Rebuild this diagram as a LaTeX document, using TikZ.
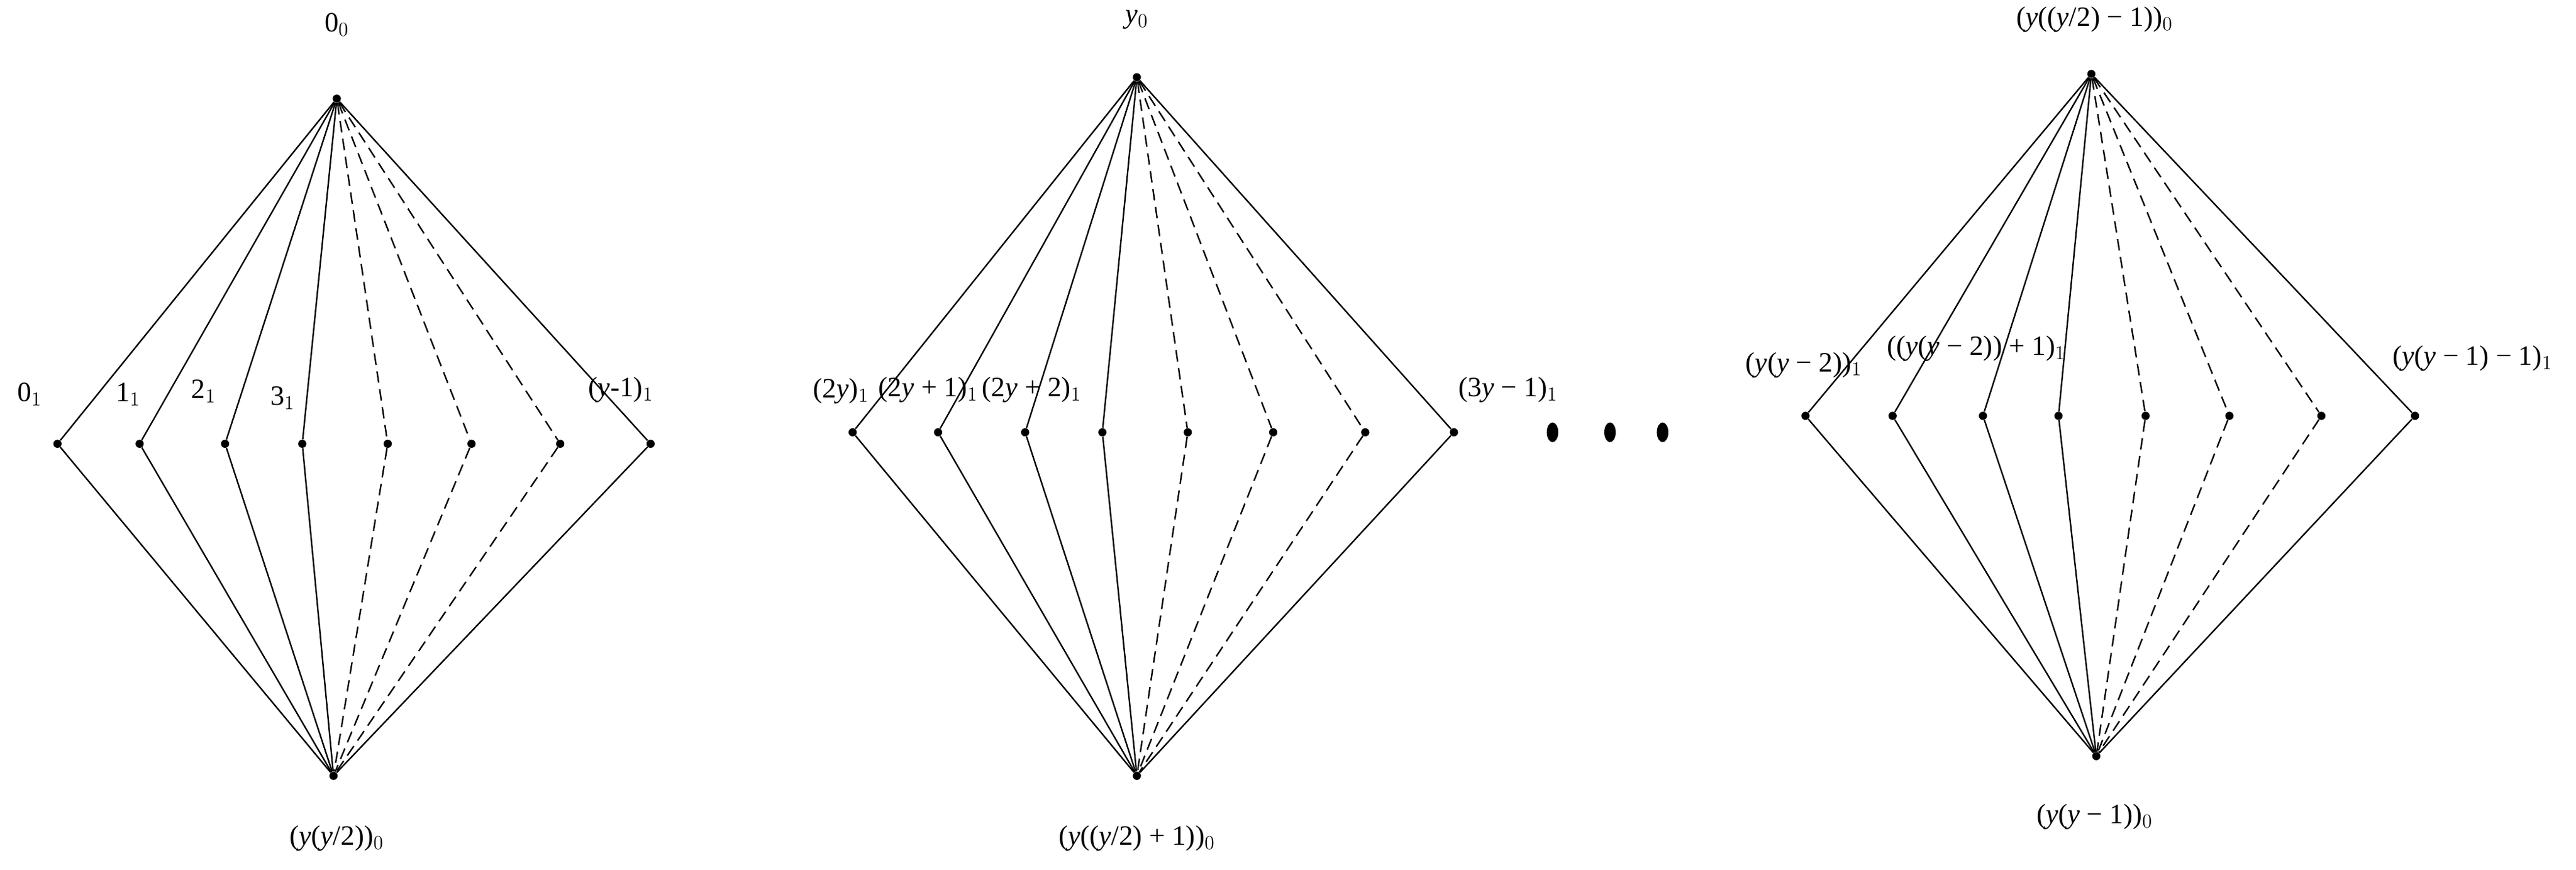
\documentclass[tikz,border=0pt]{standalone}
\usepackage{fontspec}
\setmainfont{Liberation Serif}
\usetikzlibrary{shapes.geometric}
\begin{document}
\begin{tikzpicture}[x=1pt,y=-1pt,
  dotn/.style={circle,fill=black,inner sep=0pt,minimum size=5pt},
  lab/.style={font=\fontsize{17}{19}\selectfont,inner sep=0pt},
  ln/.style={line width=0.9pt},
  dl/.style={line width=0.9pt,dashed,dash pattern=on 7pt off 4pt}]
\useasboundingbox (0,0) rectangle (1568,529);
\newcommand{\mydiamond}[6]{%
  \node[dotn] (#1t) at (#2,#3) {};
  \node[dotn] (#1b) at (#4,#5) {};
  \foreach \xx/\st [count=\i] in {#6} {
    \node[dotn] (#1m\i) at (\xx,\midy) {};
    \draw[\st] (#1t) -- (#1m\i) -- (#1b);
  }}
\def\midy{270}
\mydiamond{a}{205}{60}{203}{472}{35/ln,85/ln,137/ln,184/ln,236/dl,287/dl,341/dl,396/ln}
\def\midy{263}
\mydiamond{b}{692}{47}{692}{472}{519/ln,571/ln,624/ln,671/ln,723/dl,775/dl,831/dl,885/ln}
\def\midy{253}
\mydiamond{c}{1273}{45}{1276}{460}{1099/ln,1152/ln,1207/ln,1253/ln,1306/dl,1357/dl,1413/dl,1470/ln}
\foreach \xx [count=\i] in {945,980,1012}
  \node[ellipse,fill=black,inner sep=0pt,minimum width=7pt,minimum height=12pt] (e\i) at (\xx,263) {};
\node[lab] (l1) at (205,15) {0$_0$};
\node[lab] (l2) at (18,240) {0$_1$};
\node[lab] (l3) at (78,240) {1$_1$};
\node[lab] (l4) at (124,238) {2$_1$};
\node[lab] (l5) at (172,242) {3$_1$};
\node[lab] (l6) at (378,237) {(\textit{y}-1)$_1$};
\node[lab] (l7) at (205,510) {(\textit{y}(\textit{y}/2))$_0$};
\node[lab] (l8) at (692,12) {\textit{y}$_0$};
\node[lab] (l9) at (512,238) {(2\textit{y})$_1$};
\node[lab] (l10) at (565,237) {(2\textit{y} + 1)$_1$};
\node[lab] (l11) at (628,237) {(2\textit{y} + 2)$_1$};
\node[lab] (l12) at (918,237) {(3\textit{y} − 1)$_1$};
\node[lab] (l13) at (692,510) {(\textit{y}((\textit{y}/2) + 1))$_0$};
\node[lab] (l14) at (1275,12) {(\textit{y}((\textit{y}/2) − 1))$_0$};
\node[lab] (l15) at (1098,222) {(\textit{y}(\textit{y} − 2))$_1$};
\node[lab] (l16) at (1203,212) {((\textit{y}(\textit{y} − 2)) + 1)$_1$};
\node[lab] (l17) at (1505,218) {(\textit{y}(\textit{y} − 1) − 1)$_1$};
\node[lab] (l18) at (1275,497) {(\textit{y}(\textit{y} − 1))$_0$};
\end{tikzpicture}
\end{document}
